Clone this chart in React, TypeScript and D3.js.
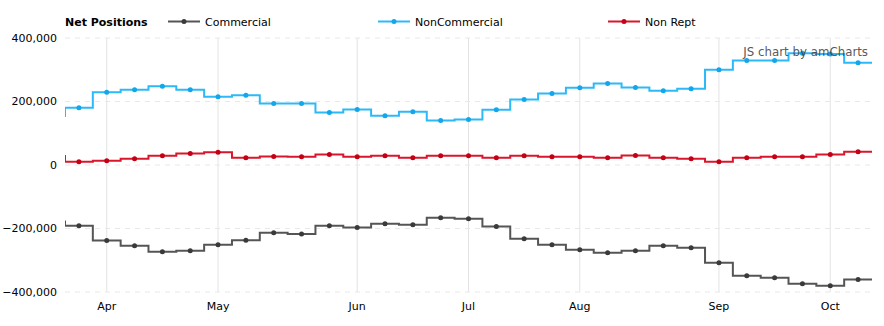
import React from "react";
import * as d3 from "d3";

// Weekly report dates (first one is the prior week, partly outside the plot)
const DATES = [
  "2017-03-21", "2017-03-28", "2017-04-04", "2017-04-11", "2017-04-18", "2017-04-25",
  "2017-05-02", "2017-05-09", "2017-05-16", "2017-05-23", "2017-05-30",
  "2017-06-06", "2017-06-13", "2017-06-20", "2017-06-27",
  "2017-07-04", "2017-07-11", "2017-07-18", "2017-07-25",
  "2017-08-01", "2017-08-08", "2017-08-15", "2017-08-22", "2017-08-29",
  "2017-09-05", "2017-09-12", "2017-09-19", "2017-09-26",
  "2017-10-03", "2017-10-10",
];

const COMMERCIAL = [
  -178000, -191000, -238000, -254000, -273000, -270000, -251000, -237000, -213000, -217000,
  -191000, -197000, -185000, -188000, -166000, -169000, -194000, -232000, -251000, -267000,
  -276000, -270000, -254000, -261000, -308000, -349000, -355000, -374000, -380000, -361000,
];

const NON_COMMERCIAL = [
  154000, 180000, 229000, 237000, 248000, 237000, 215000, 220000, 194000, 194000,
  165000, 175000, 155000, 168000, 140000, 143000, 174000, 206000, 225000, 243000,
  257000, 244000, 234000, 240000, 300000, 329000, 329000, 352000, 350000, 322000,
];

const NON_REPT = [
  28000, 10000, 13000, 20000, 29000, 36000, 40000, 23000, 27000, 26000,
  33000, 26000, 29000, 23000, 29000, 29000, 23000, 29000, 26000, 26000,
  23000, 30000, 23000, 20000, 10000, 23000, 26000, 26000, 33000, 42000,
];

const Y_TICKS = [400000, 200000, 0, -200000, -400000];

const SERIES = [
  { name: "Commercial", values: COMMERCIAL, color: "#555555", dot: "#3a3a3a" },
  { name: "NonCommercial", values: NON_COMMERCIAL, color: "#2cb9f8", dot: "#12a6ea" },
  { name: "Non Rept", values: NON_REPT, color: "#d9162b", dot: "#c40014" },
];

const W = 884;
const H = 326;
const M = { left: 65, right: 872, top: 38, bottom: 292 };
const LEGEND_X = [168, 378, 608];
const FONT = "'DejaVu Sans', Verdana, sans-serif";

export default function App() {
  const parse = d3.timeParse("%Y-%m-%d");
  const dates = DATES.map((d) => parse(d) as Date);
  const x = d3.scaleLinear().domain([1, DATES.length]).range([M.left, M.right]);
  const y = d3.scaleLinear().domain([-400000, 400000]).range([M.bottom, M.top]);
  const fmtMonth = d3.timeFormat("%b");
  const fmtNum = d3.format(",");

  const monthTicks = dates
    .map((d, i) => ({ d, i }))
    .filter(({ d, i }) => i >= 1 && d.getMonth() !== dates[i - 1].getMonth());

  const line = d3
    .line<[number, number]>()
    .x((p) => p[0])
    .y((p) => p[1]);

  const stepPath = (values: number[]) => {
    const pts: [number, number][] = [];
    values.forEach((v, i) => {
      pts.push([x(i), y(v)]);
      pts.push([x(i + 1), y(v)]);
    });
    return line(pts) || "";
  };

  return (
    <svg
      width={W}
      height={H}
      style={{ position: "absolute", left: 0, top: 0, fontFamily: FONT }}
    >
      <defs>
        <clipPath id="plotClip">
          <rect x={M.left} y={M.top - 10} width={M.right - M.left} height={M.bottom - M.top + 20} />
        </clipPath>
      </defs>
      <rect width={W} height={H} fill="#ffffff" />

      {/* vertical grid */}
      {monthTicks.map(({ i }) => (
        <line
          key={"vg" + i}
          x1={x(i + 0.5)}
          x2={x(i + 0.5)}
          y1={M.top}
          y2={M.bottom}
          stroke="#e3e3e3"
          strokeWidth={1}
        />
      ))}
      {/* horizontal dashed grid */}
      {Y_TICKS.map((t) => (
        <line
          key={"hg" + t}
          x1={M.left}
          x2={M.right}
          y1={y(t)}
          y2={y(t)}
          stroke="#e8e8e8"
          strokeWidth={1}
          strokeDasharray="5,5"
        />
      ))}

      {/* y labels */}
      {Y_TICKS.map((t) => (
        <text
          key={"yl" + t}
          x={57}
          y={y(t)}
          dy="0.35em"
          textAnchor="end"
          fontSize={11}
          fill="#000"
        >
          {fmtNum(t)}
        </text>
      ))}

      {/* x labels */}
      {monthTicks.map(({ d, i }) => (
        <text
          key={"xl" + i}
          x={x(i + 0.5)}
          y={310}
          textAnchor="middle"
          fontSize={11}
          fill="#000"
        >
          {fmtMonth(d)}
        </text>
      ))}

      {/* series */}
      <g clipPath="url(#plotClip)">
        {SERIES.map((s) => (
          <g key={s.name}>
            <path d={stepPath(s.values)} fill="none" stroke={s.color} strokeWidth={2} />
            {s.values.map((v, i) => (
              <circle key={i} cx={x(i + 0.5)} cy={y(v)} r={2.5} fill={s.dot} />
            ))}
          </g>
        ))}
      </g>

      {/* watermark */}
      <text x={868} y={56} textAnchor="end" fontSize={11.8} fill="#444" fillOpacity={0.9}>
        JS chart by amCharts
      </text>

      {/* legend */}
      <text x={65} y={26} fontSize={11} fontWeight="bold" fill="#000">
        Net Positions
      </text>
      {SERIES.map((s, k) => (
        <g key={"lg" + s.name} transform={`translate(${LEGEND_X[k]},21.5)`}>
          <line x1={0} x2={32} y1={0} y2={0} stroke={s.color} strokeWidth={2} />
          <circle cx={16} cy={0} r={2.5} fill={s.dot} />
          <text x={37} y={4.5} fontSize={11} fill="#000">
            {s.name}
          </text>
        </g>
      ))}
    </svg>
  );
}
